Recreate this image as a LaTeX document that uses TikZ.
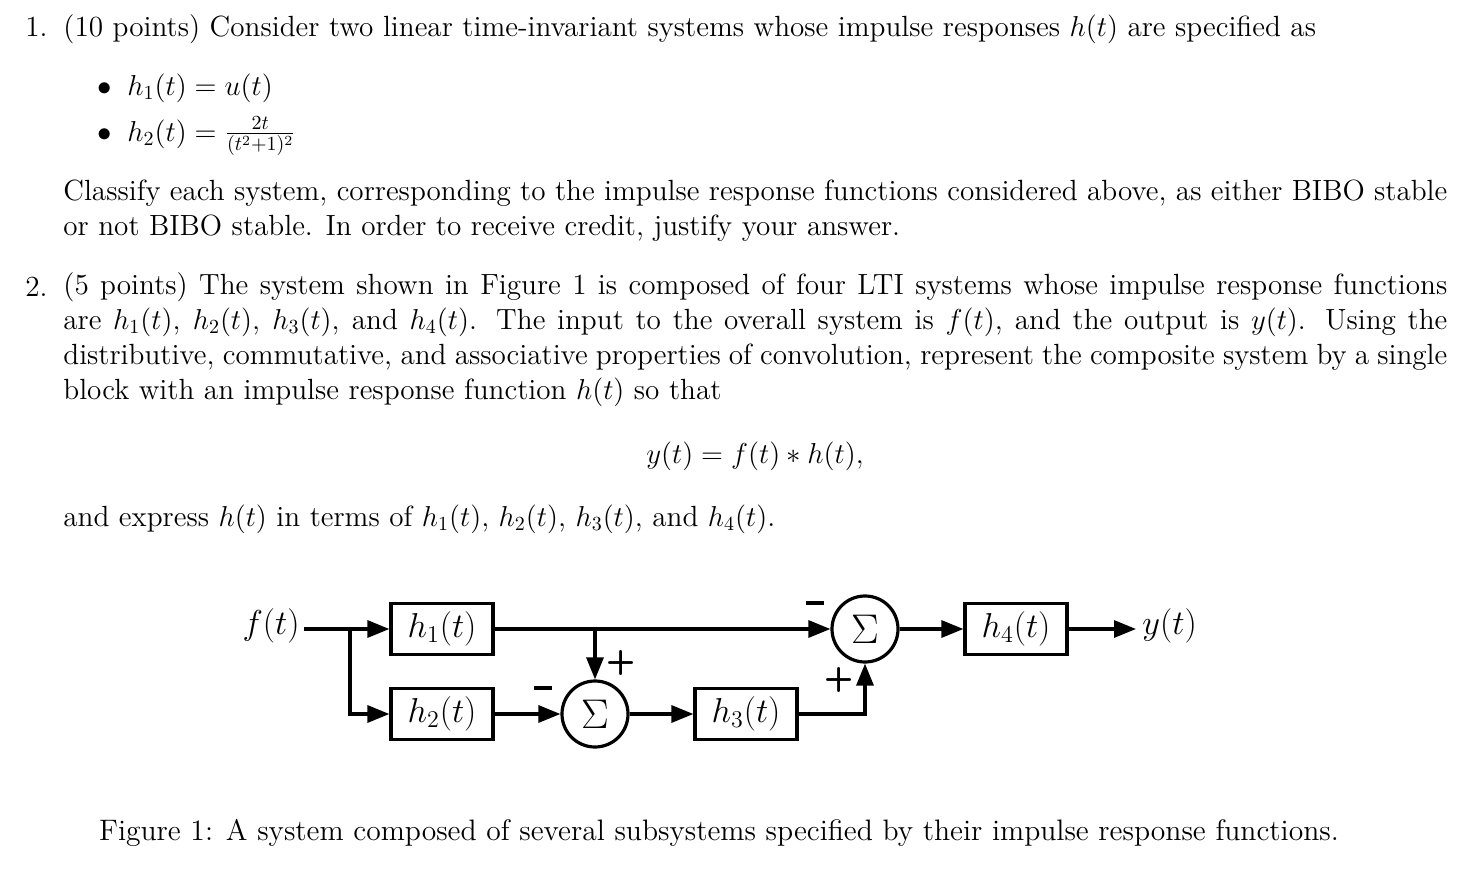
\documentclass[tikz,border=0pt]{standalone}
\usepackage{amsmath}
\usetikzlibrary{arrows.meta}
\begin{document}
\begin{tikzpicture}[x=0.5pt,y=-0.5pt,
  txt/.style={inner sep=0pt,anchor=base west,font=\fontsize{14.6}{17.5}\selectfont},
  par/.style={txt,anchor=north west,text width=692pt,align=justify},
  blk/.style={draw,line width=1.6pt,minimum width=51pt,minimum height=25.5pt,inner sep=0pt,font=\fontsize{17}{20}\selectfont},
  sumn/.style={draw,circle,line width=1.6pt,minimum size=33pt,inner sep=0pt,font=\fontsize{22}{24}\selectfont},
  wire/.style={line width=1.6pt},
  arr/.style={wire,-{Triangle[length=11pt,width=8.5pt]}},
  sgn/.style={inner sep=0pt,font=\sffamily\bfseries\fontsize{17}{20}\selectfont},
  dl/.style={inner sep=0pt,font=\fontsize{17}{20}\selectfont}]
\useasboundingbox (0,0) rectangle (1474,894);
% text
\node[txt] (l1) at (25,36) {1.};
\node[txt] (p1) at (63,36) {(10 points) Consider two linear time-invariant systems whose impulse responses $h(t)$ are specified as};
\node[txt] (b1) at (97,95) {$\bullet$};
\node[txt] (h1t) at (127,95) {$h_1(t)=u(t)$};
\node[txt] (b2) at (97,141) {$\bullet$};
\node[txt] (h2t) at (127,141) {$h_2(t)=\frac{2t}{(t^2+1)^2}$};
\node[par] (p1b) at (63,180) {Classify each system, corresponding to the impulse response functions considered above, as either BIBO stable or not BIBO stable. In order to receive credit, justify your answer.};
\node[txt] (l2) at (25,296) {2.};
\node[par] (p2) at (63,272) {(5 points) The system shown in Figure 1 is composed of four LTI systems whose impulse response functions are $h_1(t)$, $h_2(t)$, $h_3(t)$, and $h_4(t)$. The input to the overall system is $f(t)$, and the output is $y(t)$. Using the distributive, commutative, and associative properties of convolution, represent the composite system by a single block with an impulse response function $h(t)$ so that};
\node[txt,anchor=base] (eq) at (755,463) {$y(t)=f(t)*h(t),$};
\node[txt] (p3) at (63,526) {and express $h(t)$ in terms of $h_1(t)$, $h_2(t)$, $h_3(t)$, and $h_4(t)$.};
\node[txt,anchor=base] (cap) at (719,840) {\fontsize{14.8}{17.5}\selectfont Figure 1: A system composed of several subsystems specified by their impulse response functions.};
% diagram
\node[blk] (H1) at (442,629) {$h_1(t)$};
\node[blk] (H2) at (442,714) {$h_2(t)$};
\node[blk] (H3) at (746,714) {$h_3(t)$};
\node[blk] (H4) at (1016,629) {$h_4(t)$};
\node[sumn] (S1) at (595,714) {$\Sigma$};
\node[sumn] (S2) at (865,629) {$\Sigma$};
\node[dl,anchor=east] (f) at (300,626) {$f(t)$};
\node[dl,anchor=west] (y) at (1142,626) {$y(t)$};
\coordinate (sp) at (350,629);
\coordinate (jn) at (595,629);
\coordinate (cn) at (865,714);
\coordinate (ye) at (1136,629);
\draw[arr] (f.east) ++(4,3) -- (H1.west);
\draw[arr] (sp) |- (H2.west);
\draw[arr] (H1.east) -- (S2.west);
\draw[arr] (jn) -- (S1.north);
\draw[arr] (H2.east) -- (S1.west);
\draw[arr] (S1.east) -- (H3.west);
\draw[arr] (H3.east) -- (cn) -- (S2.south);
\draw[arr] (S2.east) -- (H4.west);
\draw[arr] (H4.east) -- (ye);
\node[sgn] (m2) at (815,603) {\rule{9pt}{2pt}};
\node[sgn] (p1s) at (621,663) {+};
\node[sgn] (m1) at (543,688) {\rule{9pt}{2pt}};
\node[sgn] (p2s) at (839,680) {+};
\end{tikzpicture}
\end{document}
